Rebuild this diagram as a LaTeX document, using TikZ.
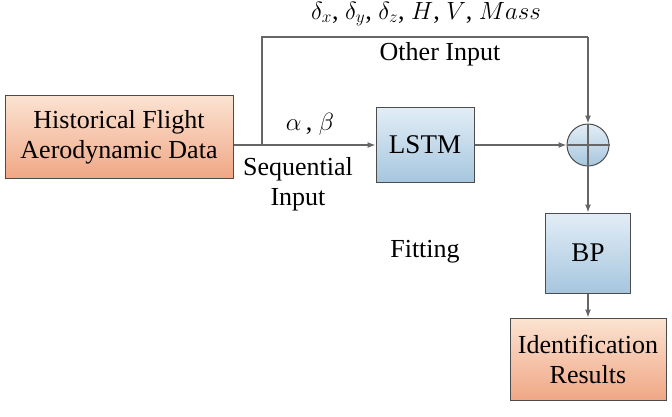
\documentclass[tikz,border=0pt]{standalone}
\usepackage{fontspec}
\setmainfont{Liberation Serif}
\usetikzlibrary{arrows.meta}
\definecolor{otop}{HTML}{FBE3D2}
\definecolor{obot}{HTML}{F0A785}
\definecolor{btop}{HTML}{E2EDF6}
\definecolor{bbot}{HTML}{A6C6DE}
\begin{document}
\begin{tikzpicture}[x=1pt,y=-1pt,
 ln/.style={draw=black!60,line width=1.2pt},
 arr/.style={ln,-{Latex[length=8pt,width=6pt]}},
 org/.style={draw=black!70,line width=1pt,top color=otop,bottom color=obot,font=\rmfamily\fontsize{26}{30}\selectfont,align=center,inner sep=0},
 blu/.style={draw=black!70,line width=1pt,top color=btop,bottom color=bbot,font=\rmfamily\fontsize{27}{30}\selectfont,inner sep=0},
 lab/.style={font=\rmfamily\fontsize{26}{30}\selectfont,align=center}]
\useasboundingbox (0,0) rectangle (672,416);
\node[org,minimum width=228,minimum height=83] (hist) at (119,137) {Historical Flight\\Aerodynamic Data};
\node[blu,minimum width=98,minimum height=75] (lstm) at (425,145) {LSTM};
\node[circle,draw=black!70,line width=1pt,top color=btop,bottom color=bbot,minimum size=42,inner sep=0] (sum) at (588,145) {};
\draw[ln] (sum.north)--(sum.south) (sum.west)--(sum.east);
\node[blu,minimum width=85,minimum height=80] (bp) at (588,253) {BP};
\node[org,minimum width=156,minimum height=82] (res) at (588,359) {Identification\\Results};
\coordinate (br) at (262,145);
\coordinate (tl) at (262,37);
\coordinate (tr) at (588,37);
\draw[ln] (hist.east|-br)--(br);
\draw[arr] (br)--(lstm.west);
\draw[ln] (br)--(tl)--(tr);
\draw[arr] (tr)--(sum.north);
\draw[arr] (lstm.east)--(sum.west);
\draw[arr] (sum.south)--(bp.north);
\draw[arr] (bp.south)--(res.north);
\node[lab] (t1) at (426,14) {$\delta_{x}$, $\delta_{y}$, $\delta_{z}$, $H$, $V$, $Mass$};
\node[lab] (t2) at (440,54) {Other Input};
\node[lab] (t3) at (310,124) {$\alpha$\,, $\beta$};
\node[lab] (t4) at (298,184) {Sequential\\Input};
\node[lab] (t5) at (425,252) {Fitting};
\end{tikzpicture}
\end{document}
